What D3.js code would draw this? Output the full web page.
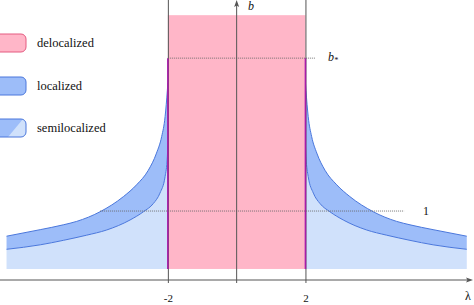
<!DOCTYPE html>
<html>
<head>
<meta charset="utf-8">
<script src="https://cdn.jsdelivr.net/npm/d3@7"></script>
<style>
  body { margin: 0; background: #fff; }
  svg text { font-family: "Liberation Serif", "DejaVu Serif", serif; }
</style>
</head>
<body>
<script>
// Curves on the right side (λ > 2); left side is the mirror image
const lamUpper = [2.0, 2.015, 2.08, 2.18, 2.33, 2.57, 2.91, 3.29, 3.97, 4.65, 5.04, 5.71, 6.69];
const bUpper = [2.86, 2.75, 2.37, 2.08, 1.84, 1.59, 1.38, 1.21, 0.99, 0.85, 0.8, 0.73, 0.635];
const lamLower = [2.0, 2.015, 2.08, 2.23, 2.42, 2.71, 3.1, 3.78, 4.36, 5.04, 5.71, 6.69];
const bLower = [1.95, 1.79, 1.5, 1.26, 1.11, 0.99, 0.87, 0.725, 0.65, 0.575, 0.51, 0.445];

const bStar = 3.217;
const bBottom = 0.16;
const bPinkTop = 3.84;
const lamBand = 2;
const oneLine = [-3.97, 4.87];
const starLine = [-2, 2.28];
const tickValues = [-2, 2];
const legendItems = ['delocalized', 'localized', 'semilocalized'];

const width = 474;
const height = 305;
const serif = '"Liberation Serif", "DejaVu Serif", serif';

const pink = '#ffb6c8';
const pinkStroke = '#e45a80';
const blue = '#9dbdf9';
const blueLight = '#d0e1fb';
const blueStroke = '#4a77dc';
const axisColor = '#555';
const magenta = '#a81ca8';
const textColor = '#111';

const svg = d3
  .select('body')
  .append('svg')
  .attr('width', width)
  .attr('height', height);

const x = d3.scaleLinear().domain([-6.88, 6.9]).range([0, width]);
const y = d3.scaleLinear().domain([0, 4.06]).range([280, 0]);

const upperR = lamUpper.map((l, i) => [l, bUpper[i]]);
const lowerR = lamLower.map((l, i) => [l, bLower[i]]);
const mirror = (pts) => pts.map(([l, b]) => [-l, b]).reverse();
const upperL = mirror(upperR);
const lowerL = mirror(lowerR);

const line = d3
  .line()
  .x((d) => x(d[0]))
  .y((d) => y(d[1]))
  .curve(d3.curveMonotoneX);

const area = d3
  .area()
  .x((d) => x(d[0]))
  .y0(y(bBottom))
  .y1((d) => y(d[1]))
  .curve(d3.curveMonotoneX);

// light fill under the lower curve
[lowerL, lowerR].forEach((pts) => {
  svg.append('path').attr('d', area(pts)).attr('fill', blueLight);
});

// band between the curves
const bandPath = (up, low) => {
  const back = line(low.slice().reverse());
  return line(up) + 'L' + back.slice(1) + 'Z';
};
[
  [upperL, lowerL],
  [upperR, lowerR],
].forEach(([up, low]) => {
  svg.append('path').attr('d', bandPath(up, low)).attr('fill', blue);
});
[upperL, lowerL, upperR, lowerR].forEach((pts) => {
  svg
    .append('path')
    .attr('d', line(pts))
    .attr('fill', 'none')
    .attr('stroke', blueStroke)
    .attr('stroke-width', 1);
});

// delocalized strip
svg
  .append('rect')
  .attr('x', x(-lamBand))
  .attr('y', y(bPinkTop))
  .attr('width', x(lamBand) - x(-lamBand))
  .attr('height', y(bBottom) - y(bPinkTop))
  .attr('fill', pink);

// ticks at ±2 as full-height lines
const xAxis = d3
  .axisBottom(x)
  .tickValues(tickValues)
  .tickSize(-283)
  .tickPadding(11)
  .tickFormat((d) => (d < 0 ? '-' + Math.abs(d) : d));

const gx = svg.append('g').attr('transform', 'translate(0,283)').call(xAxis);
gx.select('.domain').remove();
gx.selectAll('line').attr('stroke', axisColor).attr('stroke-width', 1);
gx.selectAll('text')
  .attr('fill', textColor)
  .attr('font-family', serif)
  .style('font-size', '11px');

// magenta edges
tickValues.forEach((v) => {
  svg
    .append('line')
    .attr('x1', x(v))
    .attr('x2', x(v))
    .attr('y1', y(bStar))
    .attr('y2', y(bBottom))
    .attr('stroke', magenta)
    .attr('stroke-width', 1.6);
});

// dotted reference lines
const dotted = (l0, l1, b) =>
  svg
    .append('line')
    .attr('x1', x(l0))
    .attr('x2', x(l1))
    .attr('y1', y(b))
    .attr('y2', y(b))
    .attr('stroke', '#666')
    .attr('stroke-width', 0.9)
    .attr('stroke-dasharray', '1,1');
dotted(starLine[0], starLine[1], bStar);
dotted(oneLine[0], oneLine[1], 1);

// axes with arrows
svg
  .append('line')
  .attr('x1', 0)
  .attr('x2', 470)
  .attr('y1', y(0))
  .attr('y2', y(0))
  .attr('stroke', axisColor);
svg
  .append('path')
  .attr('d', `M473,${y(0)}L466,${y(0) - 2.5}L467.5,${y(0)}L466,${y(0) + 2.5}Z`)
  .attr('fill', axisColor);

svg
  .append('line')
  .attr('x1', x(0))
  .attr('x2', x(0))
  .attr('y1', 283)
  .attr('y2', 3)
  .attr('stroke', axisColor);
svg
  .append('path')
  .attr('d', `M${x(0)},0L${x(0) - 2.5},7L${x(0)},5.5L${x(0) + 2.5},7Z`)
  .attr('fill', axisColor);

// labels
const label = (tx, ty, txt, italic) =>
  svg
    .append('text')
    .attr('x', tx)
    .attr('y', ty)
    .attr('fill', textColor)
    .attr('font-family', serif)
    .style('font-size', '12px')
    .style('font-style', italic ? 'italic' : 'normal')
    .text(txt);

label(248, 10, 'b', true);
label(465, 300, 'λ', false);
label(423, 215, '1', false);
const bs = label(328, 61, 'b', true);
bs.append('tspan').attr('dy', 2).style('font-size', '8px').text('*');

// legend
const legend = svg.append('g');
const rowY = [34, 77, 119];
const defs = svg.append('defs');
defs
  .append('clipPath')
  .attr('id', 'semiClip')
  .append('rect')
  .attr('x', -6)
  .attr('y', rowY[2])
  .attr('width', 32)
  .attr('height', 18)
  .attr('rx', 5);

legendItems.forEach((name, i) => {
  const g = legend.append('g');
  const r = g
    .append('rect')
    .attr('x', -6)
    .attr('y', rowY[i])
    .attr('width', 32)
    .attr('height', 18)
    .attr('rx', 5);
  if (i === 0) {
    r.attr('fill', pink).attr('stroke', pinkStroke);
  } else if (i === 1) {
    r.attr('fill', blue).attr('stroke', blueStroke);
  } else {
    r.attr('fill', blueLight);
    g.append('path')
      .attr('clip-path', 'url(#semiClip)')
      .attr('d', `M-6,${rowY[2]}L23,${rowY[2]}L8,${rowY[2] + 18}L-6,${rowY[2] + 18}Z`)
      .attr('fill', blue);
    g.append('rect')
      .attr('x', -6)
      .attr('y', rowY[2])
      .attr('width', 32)
      .attr('height', 18)
      .attr('rx', 5)
      .attr('fill', 'none')
      .attr('stroke', blueStroke);
  }
  g.append('text')
    .attr('x', 37)
    .attr('y', rowY[i] + 13)
    .attr('fill', textColor)
    .attr('font-family', serif)
    .style('font-size', '12.5px')
    .text(name);
});
</script>
</body>
</html>
